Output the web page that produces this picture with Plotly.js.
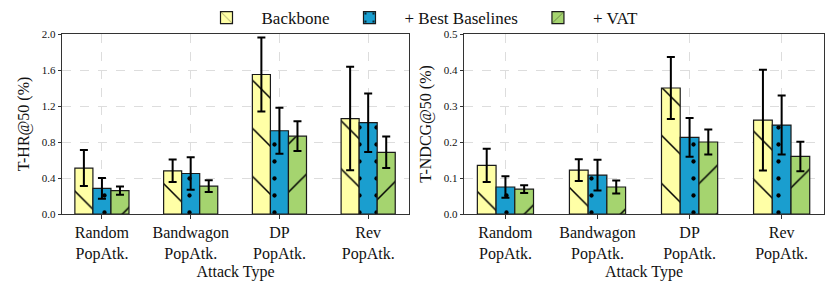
<!DOCTYPE html>
<html>
<head>
<meta charset="utf-8">
<script src="https://cdn.plot.ly/plotly-3.0.1.min.js"></script>
<style>html,body{margin:0;padding:0;background:#fff;}#chart{width:835px;height:287px;}</style>
</head>
<body>
<div id="chart"></div>
<script>
const categories = ["Random<br>PopAtk.", "Bandwagon<br>PopAtk.", "DP<br>PopAtk.", "Rev<br>PopAtk."];
const seriesNames = ["Backbone", "+ Best Baselines", "+ VAT"];

// T-HR@50 (%)
const hrBackbone = [0.51, 0.48, 1.55, 1.06];
const hrBackboneErr = [0.20, 0.125, 0.41, 0.575];
const hrBest = [0.285, 0.45, 0.925, 1.015];
const hrBestErr = [0.115, 0.18, 0.255, 0.325];
const hrVat = [0.26, 0.31, 0.865, 0.685];
const hrVatErr = [0.045, 0.065, 0.165, 0.175];

// T-NDCG@50 (%)
const ndBackbone = [0.135, 0.122, 0.35, 0.261];
const ndBackboneErr = [0.046, 0.03, 0.086, 0.14];
const ndBest = [0.075, 0.108, 0.213, 0.247];
const ndBestErr = [0.03, 0.043, 0.054, 0.082];
const ndVat = [0.069, 0.075, 0.20, 0.16];
const ndVatErr = [0.011, 0.018, 0.035, 0.041];

const hrTicks = [0, 0.4, 0.8, 1.2, 1.6, 2.0];
const ndTicks = [0, 0.1, 0.2, 0.3, 0.4, 0.5];

const colors = ["#FFFFA6", "#1A9ECF", "#A5D46F"];
const shapes = ["\\", ".", "/"];
const solid = [0.045, 0.05, 0.045];
const psize = [34, 17, 34];

function mk(vals, errs, i, xa, ya, showleg) {
  return {
    type: "bar", x: categories, y: vals, name: seriesNames[i],
    xaxis: xa, yaxis: ya, showlegend: showleg, legendgroup: "g" + i,
    marker: {
      color: colors[i],
      line: {color: "#1a1a1a", width: 1.2},
      pattern: {shape: shapes[i], fillmode: "overlay", fgcolor: "#000", fgopacity: 1, bgcolor: colors[i], size: psize[i], solidity: solid[i]}
    },
    error_y: {type: "data", array: errs, visible: true, color: "#000", thickness: 2, width: 4}
  };
}

const data = [
  mk(hrBackbone, hrBackboneErr, 0, "x", "y", true),
  mk(hrBest, hrBestErr, 1, "x", "y", true),
  mk(hrVat, hrVatErr, 2, "x", "y", true),
  mk(ndBackbone, ndBackboneErr, 0, "x2", "y2", false),
  mk(ndBest, ndBestErr, 1, "x2", "y2", false),
  mk(ndVat, ndVatErr, 2, "x2", "y2", false)
];

const serif = "Liberation Serif, Times New Roman, serif";
function xax(dom, anchor) {
  return {
    domain: dom, anchor: anchor, range: [-0.45, 3.46],
    showline: true, mirror: true, linecolor: "#333", linewidth: 1.2,
    ticks: "outside", ticklen: 4, tickcolor: "#333",
    showgrid: true, gridcolor: "#dddddd", griddash: "dash", gridwidth: 1,
    tickfont: {family: serif, size: 16, color: "#111"},
    title: {text: "Attack Type", font: {family: serif, size: 16, color: "#111"}, standoff: 2},
    zeroline: false
  };
}
function yax(dom, anchor, ticks, rng, title) {
  return {
    domain: dom, anchor: anchor, range: rng,
    tickvals: ticks, tickformat: ".1f",
    showline: true, mirror: true, linecolor: "#333", linewidth: 1.2,
    ticks: "outside", ticklen: 3, tickcolor: "#333",
    showgrid: true, gridcolor: "#dddddd", griddash: "dash", gridwidth: 1,
    tickfont: {family: serif, size: 11, color: "#111"},
    title: {text: title, font: {family: serif, size: 16, color: "#111"}, standoff: 8},
    zeroline: false
  };
}

const ydom = [1 - 214/287, 1 - 34/287];
const layout = {
  width: 835, height: 287,
  margin: {l: 0, r: 0, t: 0, b: 0},
  paper_bgcolor: "#fff", plot_bgcolor: "#fff",
  barmode: "group", bargap: 0.39, bargroupgap: 0,
  xaxis: xax([62/835, 409/835], "y"),
  yaxis: yax(ydom, "x", hrTicks, [0, 2.0], "T-HR@50 (%)"),
  xaxis2: xax([464/835, 824/835], "y2"),
  yaxis2: yax(ydom, "x2", ndTicks, [0, 0.5], "T-NDCG@50 (%)"),
  legend: {
    orientation: "h", x: 0.5, xanchor: "center", y: 1.0, yanchor: "top",
    font: {family: serif, size: 17, color: "#111"},
    itemwidth: 60, tracegroupgap: 0, bgcolor: "rgba(0,0,0,0)"
  },
  showlegend: true
};

Plotly.newPlot("chart", data, layout, {displayModeBar: false, staticPlot: true});
</script>
</body>
</html>
